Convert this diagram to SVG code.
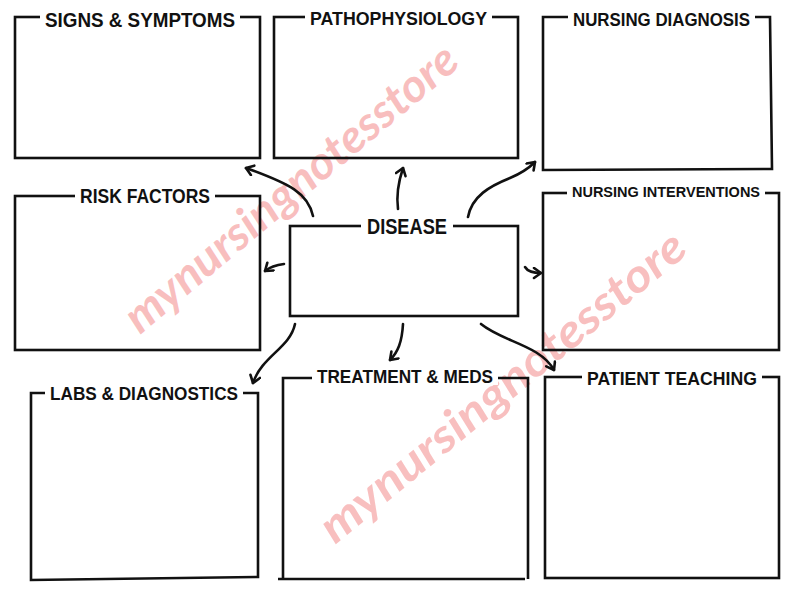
<svg xmlns="http://www.w3.org/2000/svg" width="794" height="596" viewBox="0 0 794 596">
<style>
.box{fill:none;stroke:#111;stroke-width:2.6;stroke-linejoin:miter}
.gap{fill:#fff;stroke:none}
.t{font-family:"Liberation Sans","DejaVu Sans",sans-serif;font-weight:bold;fill:#111;lengthAdjust:spacingAndGlyphs}
.wm{font-family:"Lato","DejaVu Sans",sans-serif;font-weight:bold;font-style:italic;fill:#f6a9a9;fill-opacity:0.75}
.c{fill:none;stroke:#111;stroke-width:2.6;stroke-linecap:round;marker-end:url(#ah)}
</style>
<defs>
<marker id="ah" markerUnits="userSpaceOnUse" markerWidth="14" markerHeight="14" refX="9" refY="6" orient="auto">
<path d="M2,1 L9,6 L2,11" fill="none" stroke="#111" stroke-width="2.6" stroke-linecap="round" stroke-linejoin="round"/>
</marker>
</defs>
<rect width="794" height="596" fill="#fff"/>

<g id="watermark">
<text class="wm" x="0" y="0" font-size="46" textLength="420" lengthAdjust="spacingAndGlyphs" transform="translate(140,335) rotate(-40)">mynursingnotesstore</text>
<text class="wm" x="0" y="0" font-size="46" textLength="460" lengthAdjust="spacingAndGlyphs" transform="translate(335,545) rotate(-39.5)">mynursingnotesstore</text>
</g>

<g id="signs">
<rect class="box" x="15" y="17" width="245" height="141"/>
<rect class="gap" x="40" y="8" width="200" height="20"/>
<text class="t" x="45" y="27" font-size="20" textLength="190" lengthAdjust="spacingAndGlyphs">SIGNS &amp; SYMPTOMS</text>
</g>
<g id="patho">
<rect class="box" x="274" y="17" width="244" height="141"/>
<rect class="gap" x="305" y="8" width="187" height="20"/>
<text class="t" x="310" y="25" font-size="18" textLength="177" lengthAdjust="spacingAndGlyphs">PATHOPHYSIOLOGY</text>
</g>
<g id="ndx">
<path class="box" d="M543,17 L543,170 L772,169 L770,17 Z"/>
<rect class="gap" x="568" y="8" width="187" height="20"/>
<text class="t" x="573" y="26" font-size="18" textLength="177" lengthAdjust="spacingAndGlyphs">NURSING DIAGNOSIS</text>
</g>
<g id="risk">
<rect class="box" x="15" y="196" width="245" height="154"/>
<rect class="gap" x="75" y="186" width="140" height="20"/>
<text class="t" x="80" y="203" font-size="20" textLength="130" lengthAdjust="spacingAndGlyphs">RISK FACTORS</text>
</g>
<g id="disease">
<rect class="box" x="290" y="226" width="228" height="90"/>
<rect class="gap" x="361" y="214" width="92" height="22"/>
<text class="t" x="367" y="234" font-size="22" textLength="80" lengthAdjust="spacingAndGlyphs">DISEASE</text>
</g>
<g id="nint">
<rect class="box" x="543" y="193" width="236" height="157"/>
<rect class="gap" x="567" y="184" width="198" height="16"/>
<text class="t" x="572" y="197" font-size="15" textLength="188" lengthAdjust="spacingAndGlyphs">NURSING INTERVENTIONS</text>
</g>
<g id="labs">
<path class="box" d="M31,393 L31,580 L258,577 L258,393 Z"/>
<rect class="gap" x="45" y="384" width="198" height="18"/>
<text class="t" x="50" y="400" font-size="18" textLength="188" lengthAdjust="spacingAndGlyphs">LABS &amp; DIAGNOSTICS</text>
</g>
<g id="treat">
<path class="box" d="M283,579 L283,378 L528,378 L528,579"/>
<path class="box" d="M278,579 L525,579"/>
<rect class="gap" x="312" y="366" width="186" height="19"/>
<text class="t" x="317" y="383" font-size="19" textLength="176" lengthAdjust="spacingAndGlyphs">TREATMENT &amp; MEDS</text>
</g>
<g id="teach">
<rect class="box" x="545" y="377" width="234" height="201"/>
<rect class="gap" x="582" y="367" width="180" height="20"/>
<text class="t" x="587" y="385" font-size="19" textLength="170" lengthAdjust="spacingAndGlyphs">PATIENT TEACHING</text>
</g>

<g id="connectors">
<path class="c" d="M313,216 C308,193 290,184 246,168"/>
<path class="c" d="M398,209 C396,194 399,180 403,168"/>
<path class="c" d="M468,217 C472,196 490,186 510,178 C522,173 529,168 535,162"/>
<path class="c" d="M284,264 C276,265 270,267 265,271"/>
<path class="c" d="M525,267 C528,272 533,273 541,273"/>
<path class="c" d="M295,324 C290,348 262,356 253,383"/>
<path class="c" d="M403,324 C402,342 398,352 390,360"/>
<path class="c" d="M481,324 C503,342 540,345 554,370"/>
</g>
</svg>
